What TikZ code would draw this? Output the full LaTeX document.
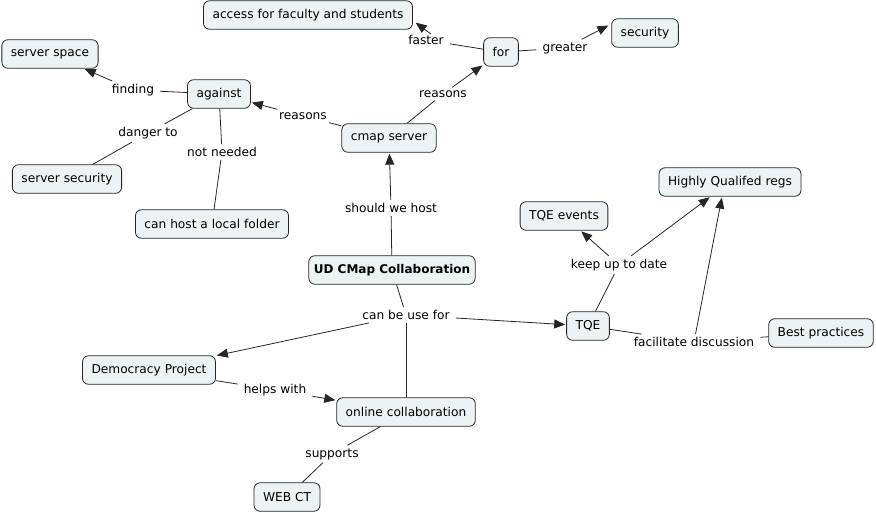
\documentclass[tikz,border=0pt]{standalone}
\usepackage{fontspec}
\setmainfont{DejaVu Sans}
\usetikzlibrary{arrows.meta,calc}
\definecolor{cfill}{RGB}{237,243,245}
\begin{document}
\begin{tikzpicture}[x=1pt,y=-1pt,
  every node/.style={font=\fontsize{12.2}{14}\selectfont, text=black},
  concept/.style={draw=black!85, fill=cfill, rounded corners=6pt, inner xsep=9pt, minimum height=28.5pt, line width=0.8pt},
  lbl/.style={inner xsep=6pt, inner ysep=3pt},
  ln/.style={draw=black!85, line width=0.8pt},
  arr/.style={ln, -{Triangle[length=11pt,width=9pt]}, shorten >=1pt}]
\useasboundingbox (0,0) rectangle (876,512);
% concepts
\node[concept] (acc) at (308,15) {access for faculty and students};
\node[concept] (sec) at (645,33) {security};
\node[concept] (for) at (501,52) {for};
\node[concept] (ssp) at (50,54) {server space};
\node[concept] (ag) at (219,94) {against};
\node[concept] (cms) at (389,138) {cmap server};
\node[concept] (ssec) at (67,179) {server security};
\node[concept] (chl) at (212,224) {can host a local folder};
\node[concept] (hq) at (730,182) {Highly Qualifed regs};
\node[concept] (tqev) at (564,216) {TQE events};
\node[concept,inner xsep=5pt,font=\fontsize{12}{14}\selectfont\bfseries] (ud) at (392,270) {UD CMap Collaboration};
\node[concept] (tqe) at (588,326) {TQE};
\node[concept] (bp) at (821,333) {Best practices};
\node[concept] (dp) at (149,370) {Democracy Project};
\node[concept] (oc) at (406,412) {online collaboration};
\node[concept] (web) at (287,497) {WEB CT};
% labels
\node[lbl] (lfaster) at (426,40) {faster};
\node[lbl] (lgreater) at (565,48) {greater};
\node[lbl] (lfinding) at (133,90) {finding};
\node[lbl] (lreasL) at (303,116) {reasons};
\node[lbl] (lreasU) at (443,94) {reasons};
\node[lbl] (ldanger) at (148,133) {danger to};
\node[lbl] (lnot) at (222,152) {not needed};
\node[lbl] (lshould) at (391,208) {should we host};
\node[lbl] (lkeep) at (619,265) {keep up to date};
\node[lbl] (lcan) at (406,315) {can be use for};
\node[lbl] (lfac) at (694,342) {facilitate discussion};
\node[lbl] (lhelps) at (275,390) {helps with};
\node[lbl] (lsup) at (332,454) {supports};
% connectors
\draw[ln] (cms) -- (lreasU);
\draw[arr] (lreasU) -- (for);
\draw[ln] (for) -- (lfaster);
\draw[arr] ($(lfaster.north)+(5,2)$) -- ($(acc.east)+(2,7)$);
\draw[ln] (for) -- (lgreater);
\draw[arr] (lgreater) -- ($(sec.west)+(-2,-8)$);
\draw[ln] (cms) -- (lreasL);
\draw[arr] (lreasL) -- (ag);
\draw[ln] (ag) -- (lfinding);
\draw[arr] (lfinding) -- (ssp);
\draw[ln] (ag) -- (ldanger);
\draw[ln] (ldanger) -- (ssec);
\draw[ln] (ag) -- (lnot);
\draw[ln] (lnot) -- (chl);
\draw[ln] (ud) -- (lshould);
\draw[arr] (lshould) -- (cms);
\draw[ln] (ud) -- (lcan);
\draw[arr] (lcan) -- (tqe);
\draw[arr] (lcan) -- (dp);
\draw[ln] (lcan) -- (oc);
\draw[ln] (tqe) -- (lkeep);
\draw[arr] (lkeep) -- (tqev);
\draw[arr] (lkeep) -- (hq);
\draw[ln] (tqe) -- (lfac);
\draw[ln] (bp) -- (lfac);
\draw[arr] (lfac) -- ($(hq.south)+(-8,0)$);
\draw[ln] (dp) -- (lhelps);
\draw[arr] (lhelps) -- (oc);
\draw[ln] (oc) -- (lsup);
\draw[ln] (lsup) -- (web);
\end{tikzpicture}
\end{document}
